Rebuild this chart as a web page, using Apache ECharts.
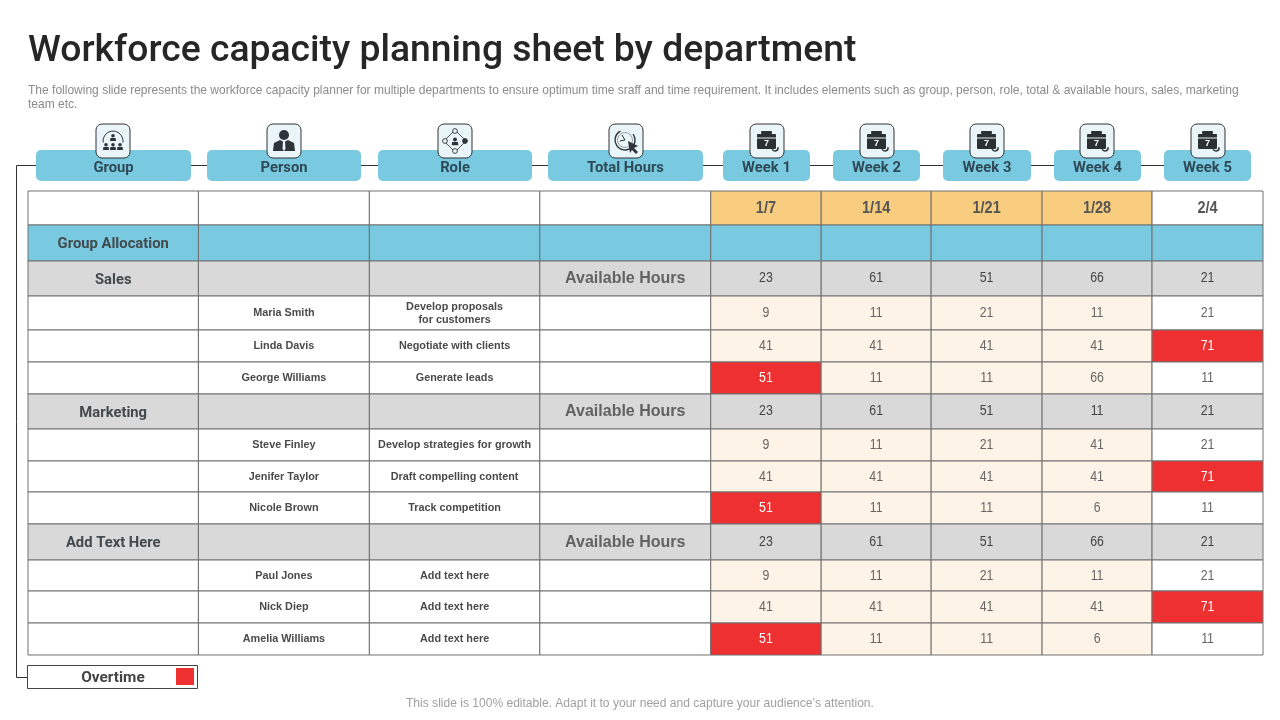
<!DOCTYPE html>
<html><head><meta charset="utf-8">
<style>html,body{margin:0;padding:0;background:#fff}#c{width:1280px;height:720px}</style>
<script src="https://cdn.jsdelivr.net/npm/echarts@6/dist/echarts.min.js"></script>
</head><body><div id="c"></div>
<script>
var titleText = 'Workforce capacity planning sheet by department';
var subtitleText = 'The following slide represents the workforce capacity planner for multiple departments to ensure optimum time sraff and time requirement. It includes elements such as group, person, role, total & available hours, sales, marketing\nteam etc.';
var footerText = "This slide is 100% editable. Adapt it to your need and capture your audience\u2019s attention.";
var headers = ['Group','Person','Role','Total Hours','Week 1','Week 2','Week 3','Week 4','Week 5'];
var dates = ['1/7','1/14','1/21','1/28','2/4'];
var groupAllocation = 'Group Allocation';
var availableLabel = 'Available Hours';
var overtimeLabel = 'Overtime';

var groups = ['Sales','Marketing','Add Text Here'];
var persons = [
  ['Maria Smith','Linda Davis','George Williams'],
  ['Steve Finley','Jenifer Taylor','Nicole Brown'],
  ['Paul Jones','Nick Diep','Amelia Williams']
];
var roles = [
  ['Develop proposals\nfor customers','Negotiate with clients','Generate leads'],
  ['Develop strategies for growth','Draft compelling content','Track competition'],
  ['Add text here','Add text here','Add text here']
];
var available = [[23,61,51,66,21],[23,61,51,11,21],[23,61,51,66,21]];
var hours = [
  [[9,11,21,11,21],[41,41,41,41,71],[51,11,11,66,11]],
  [[9,11,21,41,21],[41,41,41,41,71],[51,11,11,6,11]],
  [[9,11,21,11,21],[41,41,41,41,71],[51,11,11,6,11]]
];
// week index flagged overtime for each person row (same in every group)
var overtimeWeek = [null,4,0];

// layout (table units)
var colWidths = [170.5,171,170.5,171,110.5,110,111,110,111];
var rowHeights = [34,36,35,34,32,32,35,32,31,32,36,31,32,32];

var BLUE='#79cae0', GREY='#d9d9d9', CREAM='#fdf3e6', RED='#ee3130', ORANGE='#f9cd7f', WHITE='#ffffff';
var SANS='"Liberation Sans",Arial,sans-serif', DIN='Roboto,sans-serif';

function cum(a){var r=[0];a.forEach(function(v,i){r.push(r[i]+v)});return r;}
var colEdges=cum(colWidths), rowEdges=cum(rowHeights);

var cells=[];
function add(c,r,t,f,k){cells.push([c,r,t===null?'':t,f,k||'']);}
function blanks(r,from,to,f){for(var c=from;c<to;c++)add(c,r,'',f);}
blanks(0,0,4,WHITE);
dates.forEach(function(d,i){add(4+i,0,d,i<4?ORANGE:WHITE,'date');});
add(0,1,groupAllocation,BLUE,'din');blanks(1,1,9,BLUE);
var row=2;
groups.forEach(function(g,gi){
  add(0,row,g,GREY,'din');blanks(row,1,3,GREY);add(3,row,availableLabel,GREY,'avail');
  available[gi].forEach(function(v,i){add(4+i,row,v,GREY,'numB');});
  row++;
  persons[gi].forEach(function(p,pi){
    add(0,row,'',WHITE);add(1,row,p,WHITE,'name');add(2,row,roles[gi][pi],WHITE,'name');add(3,row,'',WHITE);
    hours[gi][pi].forEach(function(v,i){
      var over=overtimeWeek[pi]===i;
      add(4+i,row,v,over?RED:(i<4?CREAM:WHITE),over?'numW':'num');
    });
    row++;
  });
});

var textStyles={
  date:{fontFamily:SANS,fontSize:16.5,fontWeight:'bold',fill:'#555',sx:.88,dy:0},
  din:{fontFamily:DIN,fontSize:14.5,fontWeight:'bold',fill:'#424a4e',sx:1.02,dy:1.5},
  avail:{fontFamily:SANS,fontSize:16,fontWeight:'bold',fill:'#626262',sx:1,dy:.5},
  numB:{fontFamily:SANS,fontSize:14,fill:'#444',sx:.88,dy:0},
  num:{fontFamily:SANS,fontSize:14,fill:'#666',sx:.88,dy:.5},
  numW:{fontFamily:SANS,fontSize:14,fill:'#fff',sx:.88,dy:.5},
  name:{fontFamily:SANS,fontSize:11,fontWeight:'bold',fill:'#4a4a4a',lineHeight:13,sx:.985,dy:0}
};
function renderCell(params,api){
  var c=api.value(0), r=api.value(1), d=cells[params.dataIndex];
  var a=api.coord([colEdges[c],rowEdges[r]]), b=api.coord([colEdges[c+1],rowEdges[r+1]]);
  var kids=[{type:'rect',shape:{x:a[0],y:a[1],width:b[0]-a[0],height:b[1]-a[1]},
    style:{fill:d[3],stroke:'#707070',lineWidth:1}}];
  if(d[2]!==''){
    var s=textStyles[d[4]];
    kids.push({type:'text',x:(a[0]+b[0])/2,y:(a[1]+b[1])/2+s.dy,scaleX:s.sx,
      style:{text:String(d[2]),x:0,y:0,align:'center',verticalAlign:'middle',fontFamily:s.fontFamily,fontSize:s.fontSize,fontWeight:s.fontWeight,fill:s.fill,lineHeight:s.lineHeight}});
  }
  return {type:'group',children:kids};
}

var pillX=[[36,191],[207,361],[378,532],[548,703],[723,810],[833,920],[943,1031],[1054,1141],[1164,1251]];
var iconX=[113,284,455,626,767,877,987,1097,1208];
var INK='#2f3438';
var gfx=[];
gfx.push({type:'text',left:28,top:33,style:{text:titleText,fontFamily:DIN,fontSize:37.3,fontWeight:500,fill:'#262626'}});
gfx.push({type:'text',left:28,top:84,style:{text:subtitleText,fontFamily:SANS,fontSize:12.03,lineHeight:14,fill:'#8b8b8b'}});
gfx.push({type:'text',left:406,top:698,style:{text:footerText,fontFamily:SANS,fontSize:12.06,fill:'#a0a0a0'}});
gfx.push({type:'polyline',shape:{points:[[36,165.5],[16.5,165.5],[16.5,677.5],[28,677.5]]},style:{fill:null,stroke:'#333',lineWidth:1}});
for(var i=0;i<8;i++){gfx.push({type:'line',shape:{x1:pillX[i][1],y1:165.5,x2:pillX[i+1][0],y2:165.5},style:{stroke:'#333',lineWidth:1}});}
headers.forEach(function(h,i){
  gfx.push({type:'rect',shape:{x:pillX[i][0],y:150,width:pillX[i][1]-pillX[i][0],height:31,r:5},style:{fill:BLUE}});
  gfx.push({type:'text',x:(pillX[i][0]+pillX[i][1])/2,y:168.5,scaleX:1.02,style:{text:h,x:0,y:0,align:'center',verticalAlign:'middle',fontFamily:DIN,fontSize:14.5,fontWeight:'bold',fill:'#2e4a57'}});
});
function group(cx,cy,ch){return {type:'group',x:cx,y:cy,children:ch};}
function circ(x,y,r,fill,stroke,w){return {type:'circle',shape:{cx:x,cy:y,r:r},style:{fill:fill||null,stroke:stroke||null,lineWidth:w||1}};}
function poly(p,fill){return {type:'polygon',shape:{points:p},style:{fill:fill||INK}};}
function person(x,y,s){return [circ(x,y-2.2*s,1.8*s,INK),poly([[x-3*s,y+3*s],[x-2.6*s,y],[x+2.6*s,y],[x+3*s,y+3*s]])];}
function iconGroup(){
  var ch=[{type:'arc',shape:{cx:0,cy:0,r:10,startAngle:Math.PI*0.95,endAngle:Math.PI*2.05},style:{fill:null,stroke:INK,lineWidth:1}}];
  ch=ch.concat(person(0,-3,1),person(-7,6,1),person(0,6,1),person(7,6,1));
  return ch;
}
function iconPerson(){
  return [circ(0,-6,5,INK),
    poly([[-11,10],[-10,2],[-4,-1],[0,1],[4,-1],[10,2],[11,10]]),
    poly([[-1,0],[1,0],[1.5,8],[0,10],[-1.5,8]],'#eaf5fa')];
}
function iconRole(){
  return [
    {type:'polygon',shape:{points:[[0,-11],[11,0],[0,11],[-11,0]]},style:{fill:null,stroke:'#555',lineWidth:1}},
    circ(0,-10,2.4,'#eaf5fa','#444',1),circ(-10,0,2.4,'#eaf5fa','#444',1),circ(10,0,2.4,INK,INK,1),circ(0,10,2.4,'#eaf5fa','#444',1)
  ].concat(person(0,1,1.1));
}
function iconClock(){
  return [
    {type:'arc',shape:{cx:-1,cy:-1,r:10,startAngle:Math.PI*-0.2,endAngle:Math.PI*1.35},style:{fill:null,stroke:INK,lineWidth:1.4}},
    circ(-1,-1,7.5,null,'#777',0.7),
    {type:'line',shape:{x1:-1,y1:-1,x2:-4,y2:-6},style:{stroke:INK,lineWidth:1}},
    {type:'line',shape:{x1:-1,y1:-1,x2:-6,y2:0},style:{stroke:INK,lineWidth:1}},
    poly([[2,0],[12,5],[8,7],[12,11],[10,13],[6,9],[4,12]])
  ];
}
function iconCal(){
  return [
    {type:'rect',shape:{x:-10,y:-7,width:19,height:15,r:1},style:{fill:'#2b3033'}},
    {type:'rect',shape:{x:-6,y:-10,width:11,height:3,r:1},style:{fill:'#2b3033'}},
    {type:'line',shape:{x1:-10,y1:-3,x2:9,y2:-3},style:{stroke:'#eaf5fa',lineWidth:1}},
    {type:'text',style:{text:'7',x:-0.5,y:3,align:'center',verticalAlign:'middle',fontFamily:SANS,fontSize:9,fontWeight:'bold',fill:'#fff'}},
    {type:'arc',shape:{cx:8,cy:7,r:3,startAngle:-0.3,endAngle:Math.PI*1.1},style:{fill:null,stroke:INK,lineWidth:1.4}}
  ];
}
var icons=[iconGroup,iconPerson,iconRole,iconClock,iconCal,iconCal,iconCal,iconCal,iconCal];
iconX.forEach(function(x,i){
  gfx.push({type:'rect',shape:{x:x-17,y:124,width:34,height:34,r:6},style:{fill:'#eaf5fa',stroke:'#333',lineWidth:1}});
  gfx.push(group(x,141,icons[i]()));
});
gfx.push({type:'rect',shape:{x:27.5,y:665.5,width:170,height:23},style:{fill:'#fff',stroke:'#444',lineWidth:1}});
gfx.push({type:'text',x:113,y:678.5,scaleX:1.06,style:{text:overtimeLabel,x:0,y:0,align:'center',verticalAlign:'middle',fontFamily:DIN,fontSize:14.5,fontWeight:'bold',fill:'#444'}});
gfx.push({type:'rect',shape:{x:176,y:668,width:18,height:17},style:{fill:RED}});

var chart=echarts.init(document.getElementById('c'),null,{renderer:'canvas'});
chart.setOption({
  animation:false,
  backgroundColor:'#fff',
  grid:{left:28,top:191,width:1235,height:464,containLabel:false},
  xAxis:{type:'value',min:0,max:colEdges[colEdges.length-1],show:false},
  yAxis:{type:'value',min:0,max:rowEdges[rowEdges.length-1],inverse:true,show:false},
  series:[{type:'custom',coordinateSystem:'cartesian2d',clip:false,silent:true,
    encode:{x:0,y:1},renderItem:renderCell,
    data:cells.map(function(c){return [c[0],c[1]];})}],
  graphic:{elements:gfx}
});
</script></body></html>
